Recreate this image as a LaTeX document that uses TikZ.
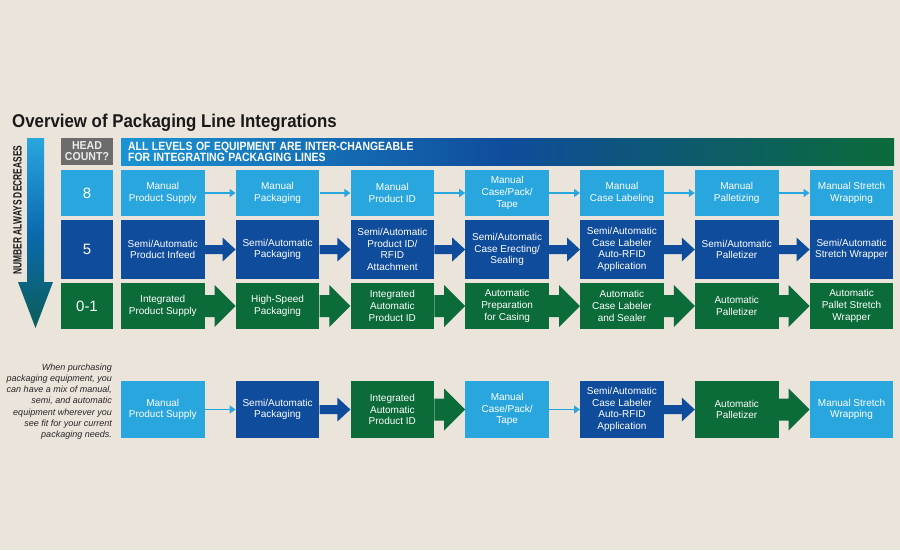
\documentclass[tikz,border=0pt]{standalone}
\usepackage{fontspec}
\setmainfont{Liberation Sans}
\usetikzlibrary{arrows.meta,calc}
\definecolor{pagebg}{HTML}{EBE4DA}
\definecolor{pkglight}{HTML}{2AA6DF}
\definecolor{pkgdark}{HTML}{0F4C9B}
\definecolor{pkggreen}{HTML}{0B6B39}
\definecolor{pkggray}{HTML}{6C6C6C}
\definecolor{barstart}{HTML}{1B93D3}
\definecolor{arrowmid}{HTML}{0B6AAE}
\definecolor{arrowend}{HTML}{0B5E58}

\begin{document}
\begin{tikzpicture}[x=1pt,y=-1pt,
 cell/.style={inner sep=0pt,minimum width=83.5pt,align=center,text=white,font=\fontsize{10}{11.7}\selectfont},
 manual/.style={cell,fill=pkglight,minimum height=46pt},
 semi/.style={cell,fill=pkgdark,minimum height=59pt},
 auto/.style={cell,fill=pkggreen,minimum height=46pt},
 count/.style={cell,minimum width=52pt,font=\fontsize{15}{18}\selectfont},
 lineflow/.style={draw=pkglight,line width=1.5pt,-{Triangle[length=6pt,width=8pt]}},
 midflow/.style={fill=pkgdark,to path={let \p1=(\tikztostart),\p2=(\tikztotarget) in
   (\x1,\y1+4.5pt)--(\x2-13pt,\y1+4.5pt)--(\x2-13pt,\y1+12pt)--(\x2,\y1)--(\x2-13pt,\y1-12pt)--(\x2-13pt,\y1-4.5pt)--(\x1,\y1-4.5pt)--cycle}},
 bigflow/.style={fill=pkggreen,to path={let \p1=(\tikztostart),\p2=(\tikztotarget) in
   (\x1,\y1+11pt)--(\x2-21pt,\y1+11pt)--(\x2-21pt,\y1+21pt)--(\x2,\y1)--(\x2-21pt,\y1-21pt)--(\x2-21pt,\y1-11pt)--(\x1,\y1-11pt)--cycle}}]
 \fill[pagebg] (0,0) rectangle (900,550);
 \useasboundingbox (0,0) rectangle (900,550);
 \node[anchor=base west,inner sep=0pt,text=black!90,font=\bfseries\fontsize{18.5}{22}\selectfont] (title) at (12,127) {\scalebox{0.91}[1]{Overview of Packaging Line Integrations}};
 \shade[top color=pkglight,bottom color=arrowend,middle color=arrowmid] (27,138)--(44,138)--(44,282)--(53,282)--(35.5,328)--(18,282)--(27,282)--cycle;
 \node[rotate=90,inner sep=0pt,text=black!90,font=\bfseries\fontsize{12}{14}\selectfont] (trend) at (17.5,210) {\scalebox{0.7}[1]{NUMBER ALWAYS DECREASES}};
 \node[cell,fill=pkggray,minimum width=52pt,minimum height=27pt,text=white!92!black,font=\bfseries\fontsize{11.5}{11}\selectfont] (head) at (87,151.5) {\scalebox{0.92}[1]{HEAD}\\\scalebox{0.92}[1]{COUNT?}};
 \node[anchor=west,inner xsep=7pt,inner ysep=0pt,text width=759pt,minimum height=27pt,align=left,text=white,font=\bfseries\fontsize{12}{11}\selectfont,left color=barstart,right color=pkggreen,middle color=pkgdark] (hdr) at (121,151.5) {\scalebox{0.87}[1]{ALL LEVELS OF EQUIPMENT ARE INTER-CHANGEABLE}\\\scalebox{0.87}[1]{FOR INTEGRATING PACKAGING LINES}};

 \node[count,fill=pkglight,minimum height=46pt] (c8) at (87,193) {8};
 \node[count,fill=pkgdark,minimum height=59pt] (c5) at (87,249.5) {5};
 \node[count,fill=pkggreen,minimum height=46pt] (c01) at (87,306) {0-1};

 \node[manual] (m1) at (162.75,193) {Manual\\Product Supply};
 \node[manual] (m2) at (277.55,193) {Manual\\Packaging};
 \node[manual] (m3) at (392.35,193) {Manual\\Product ID};
 \node[manual] (m4) at (507.15,193) {Manual\\Case/Pack/\\Tape};
 \node[manual] (m5) at (621.95,193) {Manual\\Case Labeling};
 \node[manual] (m6) at (736.75,193) {Manual\\Palletizing};
 \node[manual] (m7) at (851.55,193) {Manual Stretch\\Wrapping};

 \node[semi] (s1) at (162.75,249.5) {Semi/Automatic\\Product Infeed};
 \node[semi] (s2) at (277.55,249.5) {Semi/Automatic\\Packaging};
 \node[semi] (s3) at (392.35,249.5) {Semi/Automatic\\Product ID/\\RFID\\Attachment};
 \node[semi] (s4) at (507.15,249.5) {Semi/Automatic\\Case Erecting/\\Sealing};
 \node[semi] (s5) at (621.95,249.5) {Semi/Automatic\\Case Labeler\\Auto-RFID\\Application};
 \node[semi] (s6) at (736.75,249.5) {Semi/Automatic\\Palletizer};
 \node[semi] (s7) at (851.55,249.5) {Semi/Automatic\\Stretch Wrapper};

 \node[auto] (a1) at (162.75,306) {Integrated\\Product Supply};
 \node[auto] (a2) at (277.55,306) {High-Speed\\Packaging};
 \node[auto] (a3) at (392.35,306) {Integrated\\Automatic\\Product ID};
 \node[auto] (a4) at (507.15,306) {Automatic\\Preparation\\for Casing};
 \node[auto] (a5) at (621.95,306) {Automatic\\Case Labeler\\and Sealer};
 \node[auto] (a6) at (736.75,306) {Automatic\\Palletizer};
 \node[auto] (a7) at (851.55,306) {Automatic\\Pallet Stretch\\Wrapper};

 \node[anchor=east,align=right,inner sep=0pt,text=black!85,font=\itshape\fontsize{9}{11.2}\selectfont] (note) at (112,401.5) {When purchasing\\packaging equipment, you\\can have a mix of manual,\\semi, and automatic\\equipment wherever you\\see fit for your current\\packaging needs.};

 \node[manual,minimum height=57pt] (b1) at (162.75,409.5) {Manual\\Product Supply};
 \node[semi,minimum height=57pt] (b2) at (277.55,409.5) {Semi/Automatic\\Packaging};
 \node[auto,minimum height=57pt] (b3) at (392.35,409.5) {Integrated\\Automatic\\Product ID};
 \node[manual,minimum height=57pt] (b4) at (507.15,409.5) {Manual\\Case/Pack/\\Tape};
 \node[semi,minimum height=57pt] (b5) at (621.95,409.5) {Semi/Automatic\\Case Labeler\\Auto-RFID\\Application};
 \node[auto,minimum height=57pt] (b6) at (736.75,409.5) {Automatic\\Palletizer};
 \node[manual,minimum height=57pt] (b7) at (851.55,409.5) {Manual Stretch\\Wrapping};

 \draw[lineflow] (m1)--(m2); \draw[lineflow] (m2)--(m3); \draw[lineflow] (m3)--(m4);
 \draw[lineflow] (m4)--(m5); \draw[lineflow] (m5)--(m6); \draw[lineflow] (m6)--(m7);
 \path[midflow] (s1.east) to (s2.west); \path[midflow] (s2.east) to (s3.west); \path[midflow] (s3.east) to (s4.west);
 \path[midflow] (s4.east) to (s5.west); \path[midflow] (s5.east) to (s6.west); \path[midflow] (s6.east) to (s7.west);
 \path[bigflow] (a1.east) to (a2.west); \path[bigflow] (a2.east) to (a3.west); \path[bigflow] (a3.east) to (a4.west);
 \path[bigflow] (a4.east) to (a5.west); \path[bigflow] (a5.east) to (a6.west); \path[bigflow] (a6.east) to (a7.west);
 \draw[lineflow] (b1)--(b2); \path[midflow] (b2.east) to (b3.west); \path[bigflow] (b3.east) to (b4.west);
 \draw[lineflow] (b4)--(b5); \path[midflow] (b5.east) to (b6.west); \path[bigflow] (b6.east) to (b7.west);
\end{tikzpicture}
\end{document}
